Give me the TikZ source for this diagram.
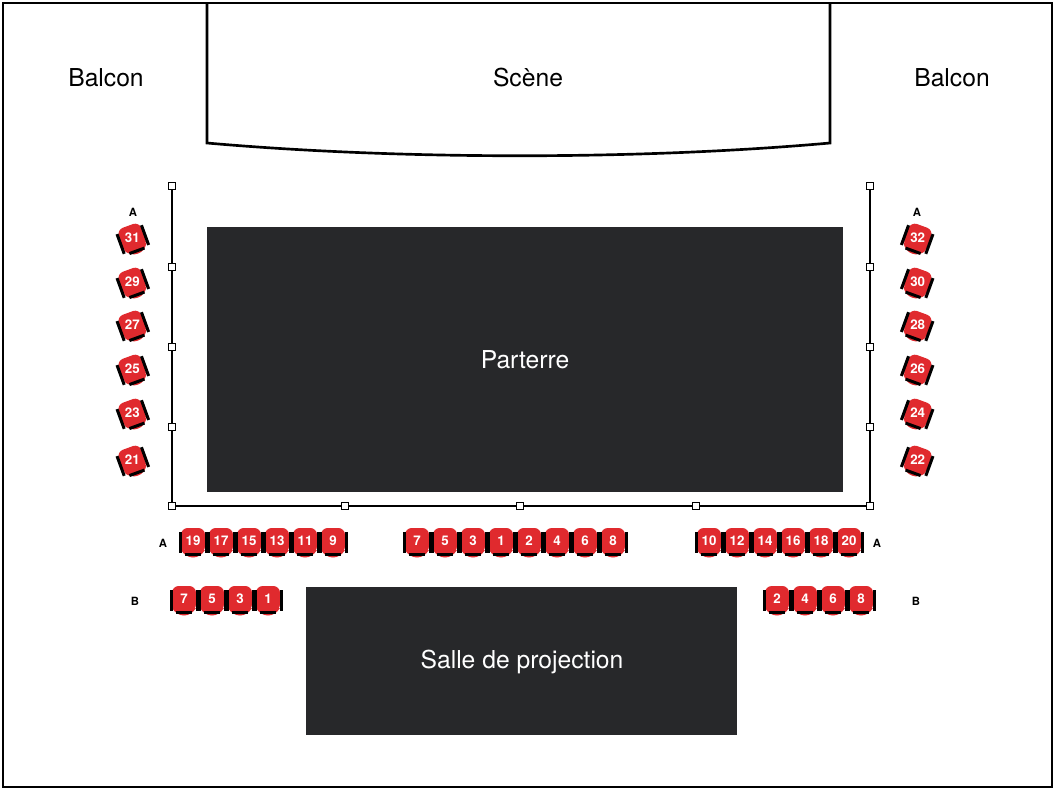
\documentclass[tikz,border=0pt]{standalone}
\usepackage{fontspec}
\setmainfont{TeX Gyre Heros}
\begin{document}
\definecolor{seatred}{HTML}{E02A2E}
\definecolor{dark}{HTML}{27282A}
\begin{tikzpicture}[x=0.75pt,y=-0.75pt,
  big/.style={font=\fontsize{18.5}{20}\selectfont},
  small/.style={font=\fontsize{8.5}{9}\selectfont\bfseries},
  sq/.style={draw=black,fill=white,line width=0.8pt,minimum size=5.5pt,inner sep=0pt},
  seat/.pic={
    \fill[seatred,rounded corners=5] (-12,-15) rectangle (12,10);
    \fill[seatred] (-12,7) .. controls (-6,17) and (6,17) .. (12,7) -- cycle;
    \fill[black] (-14.5,-11) rectangle (-11.5,10);
    \fill[black] (11.5,-11) rectangle (14.5,10);
    \fill[black] (-8,10) rectangle (8,13);
    \node[text=white,font=\fontsize{10}{11}\selectfont\bfseries] at (0,-2) {\tikzpictext};
  }]
\useasboundingbox (0,0) rectangle (1056,790);
\draw[line width=2.2pt] (3,3) rectangle (1052,787);
\draw[line width=2pt] (207,3) -- (207,143) .. controls (400,160) and (640,160) .. (830,143) -- (830,3);
\node[big] (b1) at (106,78) {Balcon};
\node[big] (sc) at (528,78) {Scène};
\node[big] (b2) at (952,78) {Balcon};
\fill[dark] (207,227) rectangle (843,492);
\node[big,text=white] (par) at (525,360) {Parterre};
\fill[dark] (306,587) rectangle (737,735);
\node[big,text=white] (sal) at (522,662) {Salle de projection};
% rails
\draw[line width=1.2pt] (172,186) -- (172,506) -- (870,506) -- (870,186);
\foreach \y in {186,267,347,427,506} {\node[sq] at (172,\y) {}; \node[sq] at (870,\y) {};}
\foreach \x in {345,520,696} {\node[sq] at (\x,506) {};}
% side seats
\node[small] (la) at (133,212) {A};
\node[small] (ra) at (917,212) {A};
\foreach \n/\y in {31/240,29/284,27/327,25/371,23/415,21/462}
  \pic[pic text=\n,rotate=20] at (133,\y) {seat};
\foreach \n/\y in {32/240,30/284,28/327,26/371,24/415,22/462}
  \pic[pic text=\n,rotate=-20] at (917,\y) {seat};
% row A
\node[small] (a1) at (163,543) {A};
\node[small] (a2) at (877,543) {A};
\foreach \n/\x in {19/193,17/221,15/249,13/277,11/305,9/333,7/417,5/445,3/473,1/501,2/529,4/557,6/585,8/613,10/709,12/737,14/765,16/793,18/821,20/849}
  \pic[pic text=\n] at (\x,543) {seat};
% row B
\node[small] (bb1) at (135,601) {B};
\node[small] (bb2) at (916,601) {B};
\foreach \n/\x in {7/184,5/212,3/240,1/268,2/777,4/805,6/833,8/861}
  \pic[pic text=\n] at (\x,601) {seat};
\end{tikzpicture}
\end{document}
